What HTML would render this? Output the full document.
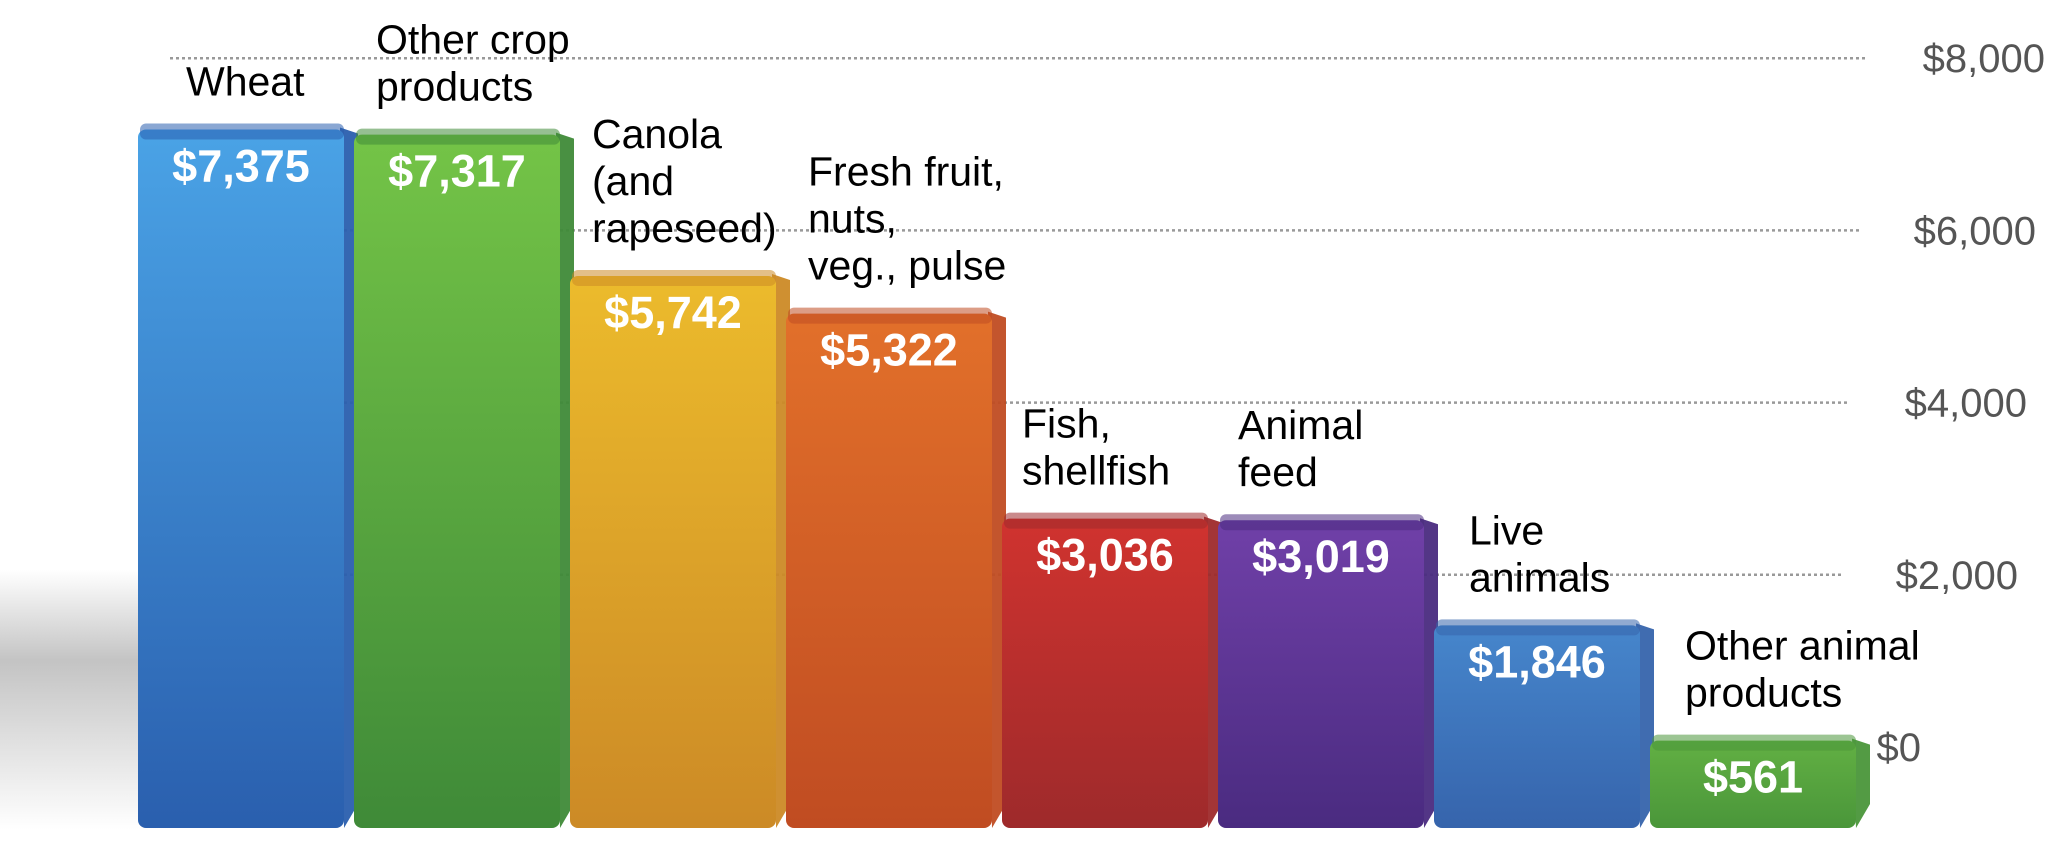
<!DOCTYPE html>
<html><head><meta charset="utf-8">
<style>
html,body{margin:0;padding:0;background:#fff;}
body{width:2056px;height:863px;overflow:hidden;position:relative;font-family:"Liberation Sans",Arial,sans-serif;}
svg{position:absolute;left:0;top:0;}
</style></head>
<body>
<svg id="chart" width="2056" height="863" viewBox="0 0 2056 863" xmlns="http://www.w3.org/2000/svg">
<defs>
<linearGradient id="shadowG" x1="0" y1="0" x2="0" y2="1">
<stop offset="0" stop-color="#fff"/><stop offset="0.35" stop-color="#bdbdbd"/><stop offset="1" stop-color="#fff"/>
</linearGradient>
</defs>
<rect x="0" y="570" width="170" height="260" fill="url(#shadowG)" opacity="0.9"/>
<g id="grid"></g>
<g id="bars"></g>
<g id="labels"></g>
</svg>
<script>
const categories = [["Wheat"],["Other crop","products"],["Canola","(and","rapeseed)"],["Fresh fruit,","nuts,","veg., pulse"],["Fish,","shellfish"],["Animal","feed"],["Live","animals"],["Other animal","products"]];
const values = [7375, 7317, 5742, 5322, 3036, 3019, 1846, 561];
const valueLabels = ["$7,375","$7,317","$5,742","$5,322","$3,036","$3,019","$1,846","$561"];
const tickValues = [0, 2000, 4000, 6000, 8000];
const tickLabels = ["$0","$2,000","$4,000","$6,000","$8,000"];
const colors = [["#4aa3e6","#2a5fae"],["#74c447","#3f8a38"],["#ecbb2c","#cc8a26"],["#e2702a","#c04c22"],["#d0332f","#9e2a2b"],["#7040a8","#4a2b80"],["#4686cc","#3664ac"],["#62b043","#4a963a"]];

const NS="http://www.w3.org/2000/svg";
function mk(tag,attrs,parent){const e=document.createElementNS(NS,tag);for(const k in attrs)e.setAttribute(k,attrs[k]);parent.appendChild(e);return e;}
const barZero=785, barK=0.0897;
function yBar(v){return barZero - v*barK;}
const gridZero=747, gridK=0.0861;
function yGrid(v){return gridZero - v*gridK;}
function xBand(i){return 138 + i*216;}
const frontW=206, sideW=14, barBottom=828;

const grid=document.getElementById('grid');
tickValues.forEach((v,i)=>{
  const y=yGrid(v);
  const xr = 2045 - (8000-v)/2000*9 - (v===0?88:0);
  if(v>0){
    const ln=mk('line',{x1:170,y1:y,x2:xr-177,y2:y,stroke:'#999','stroke-width':2.5,'stroke-dasharray':'3 3'},grid);
    
    
  }
  const t=mk('text',{x:xr,y:y+14,'text-anchor':'end','font-size':40,fill:'#555'},grid);
  t.textContent=tickLabels[i];
  
  
});

const bars=document.getElementById('bars');
const defs=document.querySelector('defs');
const labels=document.getElementById('labels');
values.forEach((v,i)=>{
  const x=xBand(i), top=yBar(v), c=colors[i];
  const g=mk('linearGradient',{id:'bg'+i,x1:0,y1:0,x2:0,y2:1},defs);
  mk('stop',{offset:0,'stop-color':c[0]},g);mk('stop',{offset:1,'stop-color':c[1]},g);
  const grp=mk('g',{},bars);
  
  
  mk('path',{d:`M${x+frontW-4} ${top+4} L${x+frontW+sideW} ${top+10} L${x+frontW+sideW} ${barBottom-24} L${x+frontW} ${barBottom} Z`,fill:c[1],opacity:0.95},grp);
  mk('rect',{x:x,y:top+6,width:frontW,height:barBottom-top-6,rx:8,fill:'url(#bg'+i+')'},grp);
  mk('rect',{x:x+2,y:top,width:frontW-2,height:16,rx:6,fill:c[1],opacity:0.55},grp);
  const vl=mk('text',{x:x+frontW/2,y:top+58,'text-anchor':'middle','font-size':45,'font-weight':'bold',fill:'#fff'},labels);
  vl.textContent=valueLabels[i];
  
  
  const lines=categories[i];
  const tx=x+(i===0?48:(i<4?22:(i<6?20:35)));
  const cl=mk('text',{x:tx,'font-size':41,fill:'#000'},labels);
  
  
  lines.forEach((s,j)=>{
    const sp=mk('tspan',{x:tx,y:top-28-(lines.length-1-j)*47},cl);
    sp.textContent=s;
  });
});
</script>
</body></html>
